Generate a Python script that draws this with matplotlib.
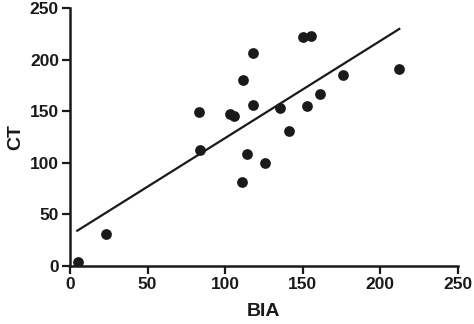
import matplotlib
matplotlib.use("Agg")
import matplotlib.pyplot as plt
import numpy as np

plt.rcParams['font.family'] = ['Liberation Sans', 'DejaVu Sans']

# BIA vs CT measurements
bia = [5, 23, 83, 84, 103, 106, 111, 111.5, 114, 118, 118, 126, 135.5, 141.5,
       150, 155.5, 153, 161, 176, 212]
ct = [4, 31, 149, 112, 147, 145, 81, 180, 108.5, 206.5, 156, 100, 153, 131,
      222, 223, 155.5, 167, 185, 191]

# regression line
fit_slope = 0.942
fit_intercept = 29.8
fit_x = [4.7, 212.3]

x_ticks = [0, 50, 100, 150, 200, 250]
y_ticks = [0, 50, 100, 150, 200, 250]

fig = plt.figure(figsize=(4.74, 3.24), dpi=100)
ax = fig.add_axes([0.1477, 0.179, 0.818, 0.796])

col = '#1a1a1a'
ax.scatter(bia, ct, s=60, color=col, zorder=3, linewidths=0)
fx = np.array(fit_x)
ax.plot(fx, fit_slope * fx + fit_intercept, color=col, lw=1.6, zorder=2)

ax.set_xlim(0, 250)
ax.set_ylim(0, 250)
ax.set_xticks(x_ticks)
ax.set_yticks(y_ticks)
for s in ['top', 'right']:
    ax.spines[s].set_visible(False)
for s in ['left', 'bottom']:
    ax.spines[s].set_linewidth(1.8)
    ax.spines[s].set_color(col)
ax.tick_params(direction='out', length=6, width=1.6, color=col,
               labelsize=12.5, labelcolor=col, pad=2)
for lab in ax.get_xticklabels() + ax.get_yticklabels():
    lab.set_fontweight('bold')

ax.set_xlabel('BIA', fontsize=14, fontweight='bold', color=col, labelpad=8)
ax.set_ylabel('CT', fontsize=14, fontweight='bold', color=col, labelpad=4)

fig.savefig('out.png', dpi=100)
